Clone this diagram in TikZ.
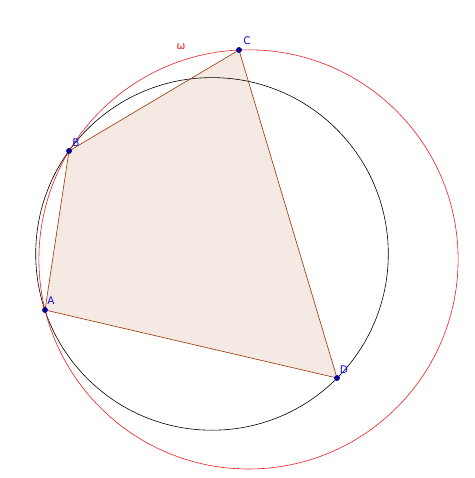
\documentclass[tikz,border=0pt]{standalone}
\usepackage{fontspec}
\setmainfont{DejaVu Sans}
\definecolor{ggbrown}{RGB}{153,51,0}
\definecolor{ggfill}{RGB}{245,233,227}
\definecolor{ggpoint}{RGB}{0,0,153}
\definecolor{gglabel}{RGB}{20,20,220}
\definecolor{ggred}{RGB}{235,30,30}
\tikzset{
  pt/.style={circle, fill=ggpoint, inner sep=0pt, minimum size=5.5pt},
  lbl/.style={text=gglabel, font=\fontsize{10.5}{12}\selectfont, inner sep=0pt},
  side/.style={draw=ggbrown, line width=0.6pt}
}
\begin{document}
\begin{tikzpicture}[x=1pt, y=-1pt]
    \useasboundingbox (0,0) rectangle (474,478);
    % Quadrilateral
    \fill[ggfill] (45,310) -- (69,151) -- (239,50) -- (337,378) -- cycle;

    % Circles
    \draw[black, line width=0.6pt] (212.0,253.9) circle (176.3);
    \draw[ggred, line width=0.6pt] (248.5,259.4) circle (209.6);

    % Nodes
    \node[pt] (A) at (45,310) {};
    \node[pt] (B) at (69,151) {};
    \node[pt] (C) at (239,50) {};
    \node[pt] (D) at (337,378) {};
    \node[lbl] (lA) at (51,301) {A};
    \node[lbl] (lB) at (76,143) {B};
    \node[lbl] (lC) at (247,41) {C};
    \node[lbl] (lD) at (344,370) {D};
    \node[lbl, text=ggred] (omega) at (181,47) {ω};

    % Edges
    \draw[side] (A.center) -- (B.center);
    \draw[side] (B.center) -- (C.center);
    \draw[side] (C.center) -- (D.center);
    \draw[side] (D.center) -- (A.center);

    % Points on top
    \foreach \p in {A,B,C,D} \fill[ggpoint] (\p) circle (2.75);
\end{tikzpicture}
\end{document}
